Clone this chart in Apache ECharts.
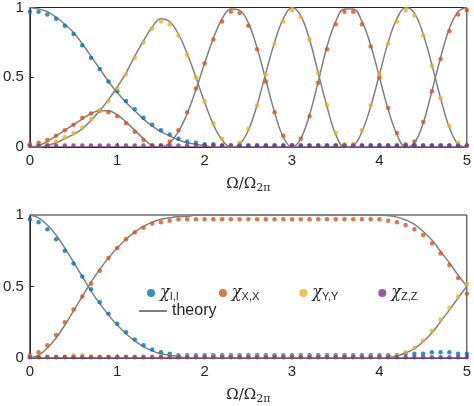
<!DOCTYPE html>
<html><head><meta charset="utf-8">
<script src="https://cdn.jsdelivr.net/npm/echarts@6/dist/echarts.min.js"></script>
<style>html,body{margin:0;padding:0;background:#fff}#c{width:474px;height:406px}</style>
</head><body><div id="c"></div>
<script>
const xs = [0,0.1,0.2,0.3,0.4,0.5,0.6,0.7,0.8,0.9,1.0,1.1,1.2,1.3,1.4,1.5,1.6,1.7,1.8,1.9,2.0,2.1,2.2,2.3,2.4,2.5,2.6,2.7,2.8,2.9,3.0,3.1,3.2,3.3,3.4,3.5,3.6,3.7,3.8,3.9,4.0,4.1,4.2,4.3,4.4,4.5,4.6,4.7,4.8,4.9,5.0];
// top panel measured
const topI = [0.97,0.97,0.95,0.92,0.87,0.81,0.73,0.64,0.56,0.47,0.40,0.33,0.27,0.21,0.16,0.12,0.09,0.06,0.04,0.03,0.02,0.02,0.01,0.01,0.01,0.01,0.01,0.01,0.01,0.01,0.01,0.01,0.01,0.01,0.01,0.01,0.01,0.01,0.01,0.01,0.01,0.01,0.01,0.01,0.01,0.01,0.01,0.01,0.01,0.01,0.01];
const topX = [0.02,0.03,0.05,0.08,0.12,0.16,0.21,0.24,0.26,0.25,0.22,0.17,0.11,0.05,0.01,0.01,0.04,0.12,0.25,0.42,0.60,0.77,0.90,0.97,0.96,0.87,0.70,0.47,0.25,0.08,0.01,0.06,0.22,0.46,0.70,0.88,0.97,0.97,0.88,0.72,0.50,0.28,0.10,0.02,0.04,0.18,0.40,0.63,0.83,0.95,0.98];
const topY = [0.01,0.01,0.02,0.04,0.07,0.10,0.14,0.20,0.26,0.33,0.42,0.52,0.64,0.75,0.85,0.90,0.88,0.80,0.66,0.50,0.33,0.17,0.06,0.01,0.03,0.13,0.30,0.52,0.74,0.90,0.98,0.93,0.77,0.53,0.30,0.10,0.02,0.02,0.12,0.30,0.52,0.74,0.90,0.98,0.94,0.80,0.58,0.35,0.15,0.03,0.01];
const topZ = [0.01,0.01,0.01,0.01,0.01,0.01,0.01,0.01,0.01,0.01,0.01,0.01,0.01,0.01,0.01,0.01,0.01,0.01,0.01,0.01,0.01,0.01,0.01,0.01,0.01,0.01,0.01,0.01,0.01,0.01,0.01,0.01,0.01,0.01,0.01,0.01,0.01,0.01,0.01,0.01,0.01,0.01,0.01,0.01,0.01,0.01,0.01,0.01,0.01,0.01,0.01];
// top panel theory
const topTI = [1.0,0.99,0.97,0.93,0.88,0.82,0.74,0.65,0.56,0.47,0.39,0.32,0.26,0.20,0.15,0.11,0.08,0.05,0.03,0.02,0.01,0.0,0.0,0.0,0.0,0.0,0.0,0.0,0.0,0.0,0.0,0.0,0.0,0.0,0.0,0.0,0.0,0.0,0.0,0.0,0.0,0.0,0.0,0.0,0.0,0.0,0.0,0.0,0.0,0.0,0.0];
const topTX = [0.0,0.01,0.04,0.08,0.12,0.16,0.20,0.24,0.26,0.26,0.23,0.18,0.12,0.06,0.01,0.0,0.03,0.11,0.24,0.41,0.60,0.78,0.92,0.99,0.98,0.89,0.71,0.48,0.25,0.07,0.0,0.06,0.23,0.47,0.72,0.90,0.99,0.99,0.90,0.73,0.50,0.27,0.09,0.0,0.03,0.17,0.40,0.64,0.85,0.97,1.0];
const topTY = [0.0,0.0,0.01,0.03,0.06,0.09,0.13,0.19,0.26,0.34,0.43,0.53,0.65,0.76,0.86,0.92,0.90,0.81,0.67,0.50,0.32,0.16,0.05,0.0,0.02,0.12,0.30,0.53,0.75,0.92,1.0,0.94,0.77,0.53,0.29,0.09,0.0,0.01,0.11,0.29,0.52,0.75,0.92,1.0,0.96,0.81,0.59,0.35,0.14,0.02,0.0];
// bottom panel measured
const botI = [0.97,0.95,0.90,0.83,0.75,0.66,0.57,0.48,0.39,0.31,0.24,0.18,0.13,0.09,0.06,0.04,0.03,0.02,0.02,0.02,0.02,0.02,0.02,0.02,0.02,0.02,0.02,0.02,0.02,0.02,0.02,0.02,0.02,0.02,0.02,0.02,0.02,0.02,0.02,0.02,0.02,0.02,0.02,0.03,0.03,0.03,0.04,0.04,0.04,0.03,0.03];
const botX = [0.02,0.04,0.09,0.16,0.25,0.34,0.43,0.52,0.61,0.70,0.77,0.83,0.88,0.91,0.94,0.95,0.96,0.97,0.97,0.97,0.97,0.97,0.97,0.97,0.97,0.97,0.97,0.97,0.97,0.97,0.97,0.97,0.97,0.97,0.97,0.97,0.97,0.97,0.97,0.97,0.97,0.96,0.95,0.93,0.90,0.86,0.80,0.73,0.65,0.56,0.45];
const botY = [0.01,0.01,0.01,0.01,0.01,0.02,0.02,0.01,0.01,0.01,0.01,0.01,0.01,0.01,0.01,0.01,0.01,0.01,0.01,0.01,0.01,0.01,0.01,0.01,0.01,0.01,0.01,0.01,0.01,0.01,0.01,0.01,0.01,0.01,0.01,0.01,0.01,0.01,0.01,0.01,0.01,0.01,0.02,0.04,0.07,0.12,0.19,0.27,0.35,0.43,0.52];
const botZ = [0.005,0.005,0.005,0.005,0.005,0.005,0.005,0.005,0.005,0.005,0.005,0.005,0.005,0.005,0.005,0.005,0.005,0.005,0.005,0.005,0.005,0.005,0.005,0.005,0.005,0.005,0.005,0.005,0.005,0.005,0.005,0.005,0.005,0.005,0.005,0.005,0.005,0.005,0.005,0.005,0.005,0.005,0.005,0.005,0.005,0.005,0.005,0.005,0.005,0.005,0.005];
// bottom panel theory
const botTI = [1.0,0.98,0.93,0.86,0.77,0.67,0.57,0.47,0.38,0.30,0.23,0.17,0.12,0.08,0.05,0.03,0.02,0.01,0.0,0.0,0.0,0.0,0.0,0.0,0.0,0.0,0.0,0.0,0.0,0.0,0.0,0.0,0.0,0.0,0.0,0.0,0.0,0.0,0.0,0.0,0.0,0.0,0.0,0.0,0.0,0.0,0.0,0.0,0.0,0.0,0.0];
const botTX = [0.0,0.02,0.07,0.14,0.23,0.33,0.43,0.53,0.62,0.70,0.77,0.83,0.88,0.92,0.95,0.97,0.98,0.99,0.99,1.0,1.0,1.0,1.0,1.0,1.0,1.0,1.0,1.0,1.0,1.0,1.0,1.0,1.0,1.0,1.0,1.0,1.0,1.0,1.0,1.0,1.0,0.995,0.985,0.965,0.935,0.885,0.825,0.745,0.665,0.58,0.50];
const botTY = [0.0,0.0,0.0,0.0,0.0,0.0,0.0,0.0,0.0,0.0,0.0,0.0,0.0,0.0,0.0,0.0,0.0,0.0,0.0,0.0,0.0,0.0,0.0,0.0,0.0,0.0,0.0,0.0,0.0,0.0,0.0,0.0,0.0,0.0,0.0,0.0,0.0,0.0,0.0,0.0,0.0,0.005,0.015,0.035,0.065,0.115,0.175,0.255,0.335,0.42,0.50];
const yTicks = ['0','0.5','1'];

const C = {I:'#0072BD', X:'#D95319', Y:'#EDB120', Z:'#7E2F8E', T:'#808080'};
const pairs = a => xs.map((x,i)=>[x,a[i]]);
const font = 'Liberation Sans';
function axes(idx){
  return {
    x: {type:'value', gridIndex:idx, min:0, max:5, interval:1,
      axisLine:{onZero:false,lineStyle:{color:'#262626'}}, axisTick:{inside:true,length:4,lineStyle:{color:'#262626'}},
      axisLabel:{color:'#262626',fontSize:15,fontFamily:font,margin:6}, splitLine:{show:false},
      name:'{a|Ω/Ω}{s|2π}', nameLocation:'middle', nameGap:28,
      nameTextStyle:{rich:{a:{fontSize:15,fontFamily:'DejaVu Serif',color:'#262626'},s:{fontSize:11,fontFamily:'DejaVu Serif',color:'#262626',verticalAlign:'bottom',padding:[8,0,0,0]}}}},
    y: {type:'value', gridIndex:idx, min:0, max:1, interval:0.5,
      axisLine:{show:true,lineStyle:{color:'#262626'}}, axisTick:{inside:true,length:4,lineStyle:{color:'#262626'}},
      axisLabel:{color:'#262626',fontSize:15,fontFamily:font,margin:6,formatter:v=>yTicks[Math.round(v*2)]}, splitLine:{show:false}}
  };
}
const a0=axes(0), a1=axes(1);
function sc(name,col,data,idx){return {name,type:'scatter',xAxisIndex:idx,yAxisIndex:idx,data:pairs(data),symbolSize:4.5,itemStyle:{color:col},z:3};}
function ln(name,data,idx){return {name,type:'line',xAxisIndex:idx,yAxisIndex:idx,data:pairs(data),smooth:0.4,showSymbol:false,symbol:'none',lineStyle:{color:C.T,width:1.5},itemStyle:{color:C.T},z:2};}
const lt = {fontSize:16,fontFamily:'DejaVu Serif',fontStyle:'italic',color:'#262626'};
const sub = {fontSize:11,fontFamily:font,color:'#262626',padding:[8,0,0,0]};
const chart = echarts.init(document.getElementById('c'));
chart.setOption({
  animation:false,
  grid:[
    {left:29,right:4,top:6,height:141,show:true,borderColor:'#262626',borderWidth:1},
    {left:29,right:4,top:215,height:143,show:true,borderColor:'#262626',borderWidth:1}
  ],
  xAxis:[a0.x,a1.x], yAxis:[a0.y,a1.y],
  legend:[
    {data:['χI','χX','χY','χZ'], left:142, top:280, itemGap:40, itemWidth:8, itemHeight:8,
     formatter:n=>{const m={'χI':'I,I','χX':'X,X','χY':'Y,Y','χZ':'Z,Z'};return '{a|χ}{s|'+m[n]+'}';},
     textStyle:{rich:{a:lt,s:sub}}},
    {data:['theory'], left:133, top:298, itemWidth:28, itemHeight:2, itemGap:2, textStyle:{fontSize:16,fontFamily:font,color:'#262626'}}
  ],
  series:[
    ln('theory',topTI,0), ln('theory',topTX,0), ln('theory',topTY,0),
    sc('χI',C.I,topI,0), sc('χX',C.X,topX,0), sc('χY',C.Y,topY,0), sc('χZ',C.Z,topZ,0),
    ln('theory',botTI,1), ln('theory',botTX,1), ln('theory',botTY,1),
    sc('χI',C.I,botI,1), sc('χX',C.X,botX,1), sc('χY',C.Y,botY,1), sc('χZ',C.Z,botZ,1)
  ]
});
</script></body></html>
